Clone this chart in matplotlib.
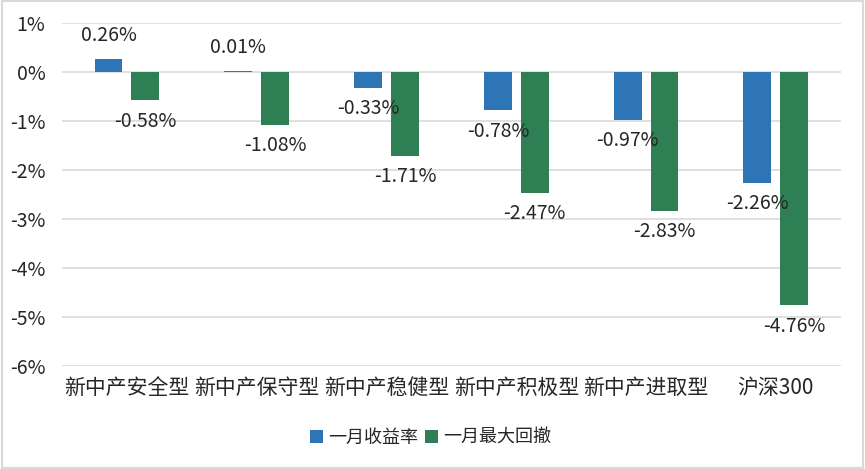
import numpy as np
import matplotlib
matplotlib.use("Agg")
import matplotlib.pyplot as plt
from matplotlib.patches import Rectangle
from matplotlib.ticker import FuncFormatter

plt.rcParams['font.family'] = ['Noto Sans CJK SC', 'DejaVu Sans']

categories = ['新中产安全型', '新中产保守型', '新中产稳健型', '新中产积极型', '新中产进取型', '沪深300']
monthly_return = [0.26, 0.01, -0.33, -0.78, -0.97, -2.26]
max_drawdown = [-0.58, -1.08, -1.71, -2.47, -2.83, -4.76]
series_names = ['一月收益率', '一月最大回撤']

blue = '#2E75B6'
green = '#2F7F55'
txt = '#262626'

fig = plt.figure(figsize=(8.65, 4.69), dpi=100)
ax = fig.add_axes([0.0717, 0.2196, 0.9003, 0.7314])

x = np.arange(len(categories))
w = 0.215
off = 0.142
b1 = ax.bar(x - off, monthly_return, w, color=blue, label=series_names[0], zorder=3)
b2 = ax.bar(x + off, max_drawdown, w, color=green, label=series_names[1], zorder=3)

for bars, vals in [(b1, monthly_return), (b2, max_drawdown)]:
    for r, v in zip(bars, vals):
        cx = r.get_x() + r.get_width() / 2
        dy = 17 if v >= 0 else -15
        ax.annotate(f'{v:.2f}%', (cx, v), xytext=(0, dy), textcoords='offset points',
                    ha='center', va='center', fontsize=14, color=txt, zorder=4)

ax.set_xlim(-0.5, len(categories) - 0.5)
ax.set_ylim(-6, 1)
ax.set_yticks(np.arange(-6, 2, 1))
ax.yaxis.set_major_formatter(FuncFormatter(lambda v, p: f'{v:.0f}%'))
ax.set_xticks(x)
ax.set_xticklabels(categories, fontsize=15, color=txt)
ax.tick_params(axis='y', labelsize=14, colors=txt, length=0, pad=12)
ax.tick_params(axis='x', length=0, pad=8)
ax.grid(axis='y', color='#D9D9D9', linewidth=1.2, zorder=0)
for s in ax.spines.values():
    s.set_visible(False)

fig.legend(loc='center', bbox_to_anchor=(0.498, 0.066), ncol=2, frameon=False,
           fontsize=13, handlelength=0.7, handleheight=0.7, handletextpad=0.3,
           columnspacing=0.4, labelcolor=txt)

fig.patches.append(Rectangle((0.002, 0.003), 0.996, 0.994, transform=fig.transFigure,
                             fill=False, edgecolor='#D9D9D9', linewidth=1.5))

fig.savefig('out.png', dpi=100)
